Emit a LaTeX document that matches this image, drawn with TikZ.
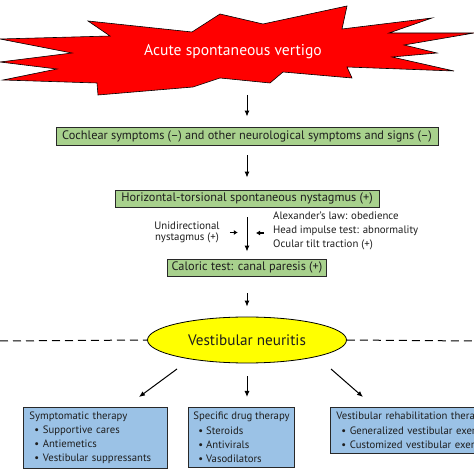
\documentclass[tikz,border=0pt]{standalone}
\usepackage{fontspec}
\setmainfont{PT Sans}
\usepackage{xcolor}
\usepackage{tikz}
\usetikzlibrary{arrows.meta,shapes.geometric}

\tikzset{
  arr/.style={draw=drawColor,line width=1pt,-{Latex[length=6pt,width=5pt]}},
  sidearr/.style={draw=drawColor,line width=1.6pt,-{Latex[length=4pt,width=5pt]}},
  greenbox/.style={draw=boxLine,fill=greenFill,line width=0.9pt,inner sep=0pt,
    text=textColor,font=\fontsize{12.3}{14}\selectfont,minimum height=17},
  bluebox/.style={draw=boxLine,fill=blueFill,line width=0.9pt,anchor=north west,
    inner xsep=6pt,inner ysep=0pt,align=left,text=textColor,
    font=\fontsize{10.7}{14.2}\selectfont},
  sidetext/.style={inner sep=0pt,text=textColor,font=\fontsize{10.8}{11.7}\selectfont},
  dashline/.style={draw=drawColor,line width=1pt,dash pattern=on 8pt off 5pt}
}

\begin{document}
\begin{tikzpicture}[x=1pt,y=1pt]
\definecolor{fillColor}{RGB}{255,255,255}
\definecolor{drawColor}{RGB}{0,0,0}
\definecolor{starColor}{RGB}{255,0,0}
\definecolor{greenFill}{RGB}{168,209,141}
\definecolor{blueFill}{RGB}{155,194,230}
\definecolor{ovalFill}{RGB}{255,255,0}
\definecolor{boxLine}{RGB}{40,40,40}
\definecolor{textColor}{RGB}{30,30,30}
\path[use as bounding box,fill=fillColor] (0,0) rectangle (474,474);
\begin{scope}
\path[clip] (0,0) rectangle (474,474);

% starburst
\path[draw=drawColor,fill=starColor,line width=0.6pt,line join=miter] (0,435) --
    (110,438) -- (88,453) -- (192,442) -- (220,460) -- (263,450) --
    (347,468) -- (342,445) -- (432,456) -- (389,441) -- (474,441) --
    (404,429) -- (437,421) -- (392,417) -- (454,403) -- (347,407) --
    (352,396) -- (283,402) -- (270,391) -- (220,396) -- (193,387) --
    (98,379) -- (97,391) -- (3,394) -- (57,405) -- (0,412) --
    (72,421) -- cycle;
\node[text=white,inner sep=0pt,font=\fontsize{15.6}{17}\selectfont] (vertigo) at (233,422) {Acute spontaneous vertigo};
\coordinate (starfoot) at (247,379);

% green boxes
\node[greenbox,minimum width=382,minimum height=18] (cochlear) at (247,338) {Cochlear symptoms (–) and other neurological symptoms and signs (–)};
\node[greenbox,minimum width=264] (nystagmus) at (247,275.5) {Horizontal-torsional spontaneous nystagmus (+)};
\node[greenbox,minimum width=159] (caloric) at (247,206.5) {Caloric test: canal paresis (+)};

\node[sidetext,align=center] (unidir) at (187,241.5) {Unidirectional\\nystagmus (+)};
\node[sidetext,align=left,anchor=west,font=\fontsize{10.8}{14.2}\selectfont] (alexander) at (273,243) {Alexander's law: obedience\\Head impulse test: abnormality\\Ocular tilt traction (+)};

\path[arr] (starfoot) -- (cochlear) [shorten >=10pt];
\path[arr,shorten <=10pt,shorten >=12pt] (cochlear) -- (nystagmus);
\path[arr,shorten <=10pt,shorten >=7pt] (nystagmus) -- (caloric);
\path[sidearr] ([xshift=10pt]unidir.east) -- ++(8,0);
\path[sidearr] ([xshift=-9pt,yshift=-2pt]alexander.west) -- ++(-8,0);

% vestibular neuritis
\node[ellipse,draw=drawColor,fill=ovalFill,line width=0.8pt,inner sep=0pt,
  minimum width=199,minimum height=46,text=textColor,
  font=\fontsize{15.2}{17}\selectfont] (neuritis) at (247,134) {Vestibular neuritis};
\path[arr,shorten <=17pt,shorten >=10pt] (caloric) -- (neuritis);
\coordinate (dashleft) at (0,133);
\coordinate (dashright) at (474,133);
\path[dashline] (dashleft) -- (neuritis.west);
\path[dashline] (neuritis.east) -- (dashright);

% therapy boxes
\node[bluebox,text width=132,minimum height=61] (symptomatic) at (23,67) {Symptomatic therapy\\
  \hspace*{5pt}• Supportive cares\\
  \hspace*{5pt}• Antiemetics\\
  \hspace*{5pt}• Vestibular suppressants};
\node[bluebox,inner xsep=5pt,minimum width=105,minimum height=60] (drug) at (188,67) {Specific drug therapy\\
  \hspace*{5pt}• Steroids\\
  \hspace*{5pt}• Antivirals\\
  \hspace*{5pt}• Vasodilators};
\node[bluebox,text width=170,minimum height=46] (rehab) at (330,67) {Vestibular rehabilitation therapy\\
  \hspace*{5pt}• Generalized vestibular exercise\\
  \hspace*{5pt}• Customized vestibular exercise};

\coordinate (symfrom) at (177,105);
\coordinate (symto) at (139,77);
\coordinate (rehabfrom) at (331,105);
\coordinate (rehabto) at (363,77);
\path[arr] (symfrom) -- (symto);
\path[arr,shorten <=13pt,shorten >=10pt] (neuritis) -- (drug.north -| neuritis);
\path[arr] (rehabfrom) -- (rehabto);
\end{scope}
\end{tikzpicture}
\end{document}
